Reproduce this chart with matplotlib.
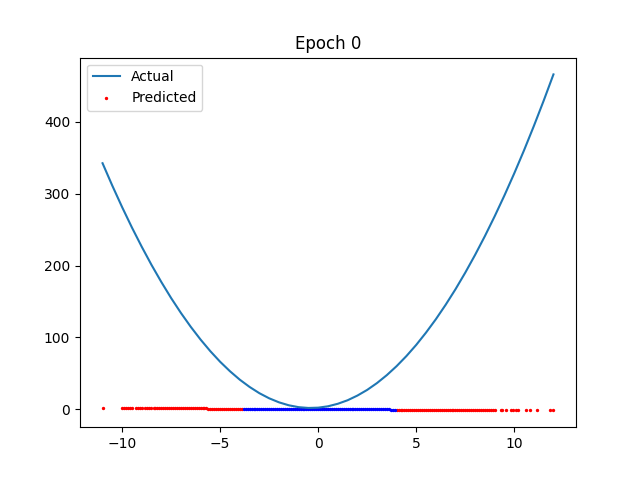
import numpy as np
import matplotlib
matplotlib.use("Agg")
import matplotlib.pyplot as plt

### courbe reelle
x_actual = [-11.0, -10.5, -10.0, -9.5, -9.0, -8.5, -8.0, -7.5, -7.0, -6.5, -6.0, -5.5,
            -5.0, -4.5, -4.0, -3.5, -3.0, -2.5, -2.0, -1.5, -1.0, -0.5, 0.0, 0.5,
            1.0, 1.5, 2.0, 2.5, 3.0, 3.5, 4.0, 4.5, 5.0, 5.5, 6.0, 6.5,
            7.0, 7.5, 8.0, 8.5, 9.0, 9.5, 10.0, 10.5, 11.0, 11.5, 12.0]
y_actual = [342.1, 310.8, 281.0, 252.7, 226.0, 200.7, 177.0, 154.7, 134.0, 114.8, 97.1, 80.9,
            66.2, 53.1, 41.4, 31.3, 22.6, 15.5, 9.9, 5.8, 3.2, 2.1, 2.5, 4.4,
            7.9, 12.8, 19.3, 27.2, 36.7, 47.7, 60.2, 74.2, 89.7, 106.8, 125.3, 145.4,
            166.9, 190.0, 214.6, 240.7, 268.3, 297.4, 328.0, 360.1, 393.8, 428.9, 465.5]

### predictions hors zone (rouge), partie gauche
x_left = [-11.0, -10.0, -9.9, -9.8, -9.7, -9.6, -9.5, -9.3, -9.2, -9.1, -9.0, -8.85, -8.75, -8.65, -8.55,
          -8.4, -8.3, -8.2, -8.1, -8.0, -7.9, -7.8, -7.7, -7.6, -7.5, -7.4, -7.3, -7.2, -7.1, -7.0,
          -6.9, -6.8, -6.7, -6.6, -6.5, -6.4, -6.3, -6.2, -6.1, -6.0, -5.9, -5.8, -5.7, -5.6, -5.5,
          -5.4, -5.3, -5.2, -5.1, -5.0, -4.9, -4.8, -4.7, -4.6, -4.5, -4.4, -4.3, -4.2, -4.1, -4.0,
          -3.9]
y_left = [2.2, 2.0, 2.0, 2.0, 2.0, 1.9, 1.9, 1.9, 1.9, 1.9, 1.9, 1.8, 1.8, 1.8, 1.8,
          1.8, 1.7, 1.7, 1.7, 1.7, 1.7, 1.7, 1.7, 1.6, 1.6, 1.6, 1.6, 1.6, 1.6, 1.6,
          1.5, 1.5, 1.5, 1.5, 1.5, 1.5, 1.4, 1.4, 1.4, 1.4, 1.4, 1.4, 1.4, 1.3, 1.3,
          1.3, 1.3, 1.3, 1.3, 1.3, 1.2, 1.2, 1.2, 1.2, 1.2, 1.2, 1.1, 1.1, 1.1, 1.1,
          1.1]

### predictions dans la zone d'entrainement (bleu)
x_mid = [-3.8, -3.7, -3.6, -3.5, -3.4, -3.3, -3.2, -3.1, -3.0, -2.9,
         -2.8, -2.7, -2.6, -2.5, -2.4, -2.3, -2.2, -2.1, -2.0, -1.9,
         -1.8, -1.7, -1.6, -1.5, -1.4, -1.3, -1.2, -1.1, -1.0, -0.9,
         -0.8, -0.7, -0.6, -0.5, -0.4, -0.3, -0.2, -0.1, 0.0, 0.1,
         0.2, 0.3, 0.4, 0.5, 0.6, 0.7, 0.8, 0.9, 1.0, 1.1,
         1.2, 1.3, 1.4, 1.5, 1.6, 1.7, 1.8, 1.9, 2.0, 2.1,
         2.2, 2.3, 2.4, 2.5, 2.6, 2.7, 2.8, 2.9, 3.0, 3.1,
         3.2, 3.3, 3.4, 3.5, 3.6, 3.7, 3.8, 3.9]
y_mid = [1.1, 1.1, 1.0, 1.0, 1.0, 1.0, 1.0, 1.0, 1.0, 0.9,
         0.9, 0.9, 0.9, 0.9, 0.9, 0.9, 0.8, 0.8, 0.8, 0.8,
         0.8, 0.8, 0.8, 0.8, 0.7, 0.7, 0.7, 0.7, 0.7, 0.6,
         0.6, 0.6, 0.6, 0.6, 0.6, 0.6, 0.5, 0.5, 0.5, 0.5,
         0.5, 0.5, 0.4, 0.4, 0.4, 0.4, 0.4, 0.4, 0.3, 0.3,
         0.3, 0.3, 0.3, 0.3, 0.3, 0.2, 0.2, 0.2, 0.2, 0.2,
         0.2, 0.2, 0.1, 0.1, 0.1, 0.1, 0.1, 0.1, 0.0, 0.0,
         0.0, 0.0, 0.0, 0.0, 0.0, -0.1, -0.1, -0.1]

### predictions hors zone (rouge), partie droite
x_right = [4.0, 4.1, 4.2, 4.3, 4.4, 4.5, 4.6, 4.7, 4.8, 4.9,
           5.0, 5.1, 5.2, 5.3, 5.4, 5.5, 5.6, 5.7, 5.8, 5.9,
           6.0, 6.1, 6.2, 6.3, 6.4, 6.5, 6.6, 6.7, 6.8, 6.9,
           7.0, 7.1, 7.2, 7.3, 7.4, 7.5, 7.6, 7.7, 7.8, 7.9,
           8.0, 8.1, 8.2, 8.3, 8.4, 8.5, 8.6, 8.7, 8.8,
           8.9, 9.0, 9.3, 9.4, 9.6, 9.85, 9.95, 10.1, 10.2, 10.6, 10.8, 11.15, 11.8, 12.0]
y_right = [-0.1, -0.1, -0.1, -0.1, -0.2, -0.2, -0.2, -0.2, -0.2, -0.2,
           -0.3, -0.3, -0.3, -0.3, -0.3, -0.3, -0.3, -0.4, -0.4, -0.4,
           -0.4, -0.4, -0.4, -0.4, -0.5, -0.5, -0.5, -0.5, -0.5, -0.5,
           -0.6, -0.6, -0.6, -0.6, -0.6, -0.6, -0.6, -0.7, -0.7, -0.7,
           -0.7, -0.7, -0.7, -0.7, -0.8, -0.8, -0.8, -0.8, -0.8,
           -0.8, -0.9, -0.9, -0.9, -0.9, -1.0, -1.0, -1.0, -1.0, -1.1, -1.1, -1.2, -1.3, -1.3]

epoch = 0

x_out = np.array(x_left + x_right)
y_out = np.array(y_left + y_right)

fig, ax = plt.subplots(figsize=(6.4, 4.8), dpi=100)
ax.plot(x_actual, y_actual, label="Actual")
ax.scatter(x_out, y_out, s=2, color="red", label="Predicted")
ax.scatter(x_mid, y_mid, s=2, color="blue")
ax.set_title("Epoch %d" % epoch)
ax.legend(loc="upper left")
fig.savefig("out.png")
